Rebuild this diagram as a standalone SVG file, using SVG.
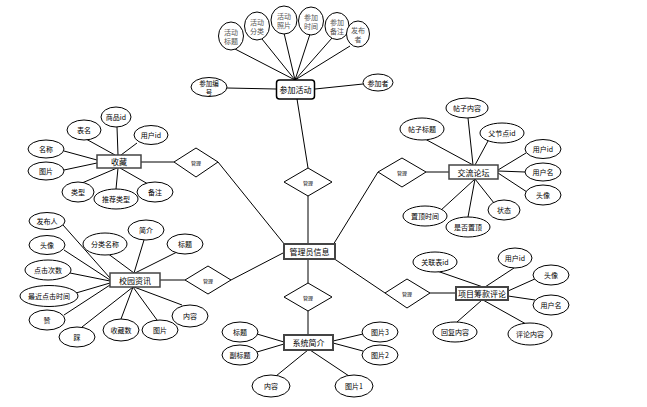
<svg xmlns="http://www.w3.org/2000/svg" width="647" height="407" viewBox="0 0 647 407">
<style>
.bg{fill:#fff}
.c line{stroke:#000;stroke-width:1}
ellipse{fill:#fff;stroke:#000;stroke-width:1}
.ent{fill:#fff;stroke:#444;stroke-width:2}
.dia{fill:#fff;stroke:#000;stroke-width:1}
text{font-family:"Noto Sans CJK SC","Liberation Sans",sans-serif;text-anchor:middle;dominant-baseline:central;fill:#000}
.a{font-size:7px}
.e{font-size:8px}
.d{font-size:5px}
.s{font-size:7px;fill:#555;font-family:"Noto Sans CJK SC","Liberation Serif",serif}
</style>
<rect class="bg" width="647" height="407"/>
<g class="c" id="connectors">
<line x1="235" y1="49" x2="295" y2="80"/>
<line x1="262" y1="39" x2="295" y2="80"/>
<line x1="284" y1="33" x2="295" y2="80"/>
<line x1="310" y1="34" x2="295" y2="80"/>
<line x1="332" y1="38" x2="295" y2="80"/>
<line x1="350" y1="46" x2="295" y2="80"/>
<line x1="227" y1="88" x2="276" y2="89"/>
<line x1="315" y1="89" x2="363" y2="84"/>
<line x1="297" y1="99" x2="308" y2="168"/>
<line x1="308" y1="196" x2="308" y2="244"/>
<line x1="308" y1="259" x2="308" y2="283"/>
<line x1="308" y1="311" x2="308" y2="335"/>
<line x1="333" y1="245" x2="378" y2="172"/>
<line x1="426" y1="172" x2="449" y2="172"/>
<line x1="333" y1="258" x2="385" y2="293"/>
<line x1="430" y1="293" x2="456" y2="293"/>
<line x1="218" y1="162" x2="285" y2="245"/>
<line x1="141" y1="162" x2="174" y2="162"/>
<line x1="231" y1="280" x2="283" y2="253"/>
<line x1="160" y1="280" x2="185" y2="280"/>
<line x1="117" y1="127" x2="118" y2="155"/>
<line x1="86" y1="139" x2="115" y2="155"/>
<line x1="137" y1="143" x2="121" y2="155"/>
<line x1="64" y1="151" x2="97" y2="160"/>
<line x1="64" y1="170" x2="97" y2="163"/>
<line x1="82" y1="183" x2="117" y2="168"/>
<line x1="116" y1="189" x2="118" y2="168"/>
<line x1="148" y1="184" x2="120" y2="168"/>
<line x1="425" y1="139" x2="473" y2="165"/>
<line x1="468" y1="118" x2="473" y2="165"/>
<line x1="488" y1="141" x2="475" y2="165"/>
<line x1="526" y1="153" x2="498" y2="170"/>
<line x1="525" y1="172" x2="498" y2="171"/>
<line x1="527" y1="192" x2="498" y2="173"/>
<line x1="440" y1="211" x2="475" y2="179"/>
<line x1="468" y1="217" x2="475" y2="179"/>
<line x1="494" y1="203" x2="475" y2="179"/>
<line x1="437" y1="271" x2="483" y2="287"/>
<line x1="514" y1="268" x2="485" y2="287"/>
<line x1="537" y1="278" x2="508" y2="291"/>
<line x1="535" y1="300" x2="508" y2="296"/>
<line x1="457" y1="322" x2="482" y2="300"/>
<line x1="526" y1="324" x2="483" y2="300"/>
<line x1="63" y1="225" x2="110" y2="278"/>
<line x1="64" y1="250" x2="110" y2="280"/>
<line x1="70" y1="273" x2="110" y2="281"/>
<line x1="76" y1="293" x2="110" y2="283"/>
<line x1="64" y1="315" x2="110" y2="285"/>
<line x1="107" y1="253" x2="134" y2="273"/>
<line x1="144" y1="240" x2="134" y2="273"/>
<line x1="177" y1="252" x2="135" y2="273"/>
<line x1="82" y1="327" x2="133" y2="287"/>
<line x1="121" y1="319" x2="133" y2="287"/>
<line x1="157" y1="320" x2="133" y2="287"/>
<line x1="182" y1="305" x2="134" y2="287"/>
<line x1="257" y1="334" x2="284" y2="342"/>
<line x1="257" y1="352" x2="284" y2="344"/>
<line x1="276" y1="376" x2="308" y2="350"/>
<line x1="349" y1="376" x2="310" y2="350"/>
<line x1="363" y1="351" x2="333" y2="343"/>
<line x1="363" y1="334" x2="333" y2="341"/>
</g>
<g id="canjiahuodong">
<rect class="ent" x="276.5" y="80" width="38" height="19" rx="3" style="stroke:#000;stroke-width:1.5"/>
<text class="e" x="295.5" y="89.5">参加活动</text>
</g>
<g id="attr-huodong-biaoti"><ellipse cx="231" cy="36" rx="12.5" ry="14"/><text class="s" x="231" y="32">活动</text><text class="s" x="231" y="41">标题</text></g>
<g id="attr-huodong-fenlei"><ellipse cx="257" cy="26" rx="12.5" ry="14"/><text class="s" x="257" y="22">活动</text><text class="s" x="257" y="31">分类</text></g>
<g id="attr-huodong-zhaopian"><ellipse cx="284" cy="20" rx="13" ry="14"/><text class="s" x="284" y="16">活动</text><text class="s" x="284" y="25">照片</text></g>
<g id="attr-canjia-shijian"><ellipse cx="311" cy="21" rx="12.5" ry="14"/><text class="s" x="311" y="17">参加</text><text class="s" x="311" y="26">时间</text></g>
<g id="attr-canjia-beizhu"><ellipse cx="337" cy="26" rx="12" ry="13.5"/><text class="s" x="337" y="22">参加</text><text class="s" x="337" y="31">备注</text></g>
<g id="attr-fabuzhe"><ellipse cx="358" cy="34" rx="11.5" ry="13"/><text class="s" x="358" y="30">发布</text><text class="s" x="358" y="39">者</text></g>
<g id="attr-canjia-bianhao"><ellipse cx="209" cy="87" rx="18" ry="9.5"/><text x="209" y="83" style="font-size:6.5px">参加编</text><text x="209" y="91.5" style="font-size:6.5px">号</text></g>
<g id="attr-canjiazhe"><ellipse cx="378" cy="82.5" rx="15" ry="8.5"/><text class="a" x="378" y="82.5">参加者</text></g>
<g id="dia-top"><polygon class="dia" points="308,168 332,182 308,196 284,182"/><text class="d" x="308" y="182">管理</text></g>
<g id="guanliyuan"><rect class="ent" x="284" y="244" width="51" height="15"/><text class="e" x="309.5" y="251.5">管理员信息</text></g>
<g id="dia-bottom"><polygon class="dia" points="308,283 332,297 308,311 284,297"/><text class="d" x="308" y="297">管理</text></g>
<g id="xitong"><rect class="ent" x="284" y="335" width="49" height="15"/><text class="e" x="308.5" y="342.5">系统简介</text></g>
<g id="attr-xt-biaoti"><ellipse cx="240" cy="332" rx="18" ry="10"/><text class="a" x="240" y="332">标题</text></g>
<g id="attr-xt-fubiaoti"><ellipse cx="240" cy="355" rx="18" ry="10"/><text class="a" x="240" y="355">副标题</text></g>
<g id="attr-xt-neirong"><ellipse cx="271" cy="386" rx="19" ry="11"/><text class="a" x="271" y="386">内容</text></g>
<g id="attr-xt-tupian1"><ellipse cx="354" cy="386" rx="19" ry="11"/><text class="a" x="354" y="386">图片1</text></g>
<g id="attr-xt-tupian2"><ellipse cx="380" cy="355" rx="18" ry="10"/><text class="a" x="380" y="355">图片2</text></g>
<g id="attr-xt-tupian3"><ellipse cx="380" cy="332" rx="18" ry="10"/><text class="a" x="380" y="332">图片3</text></g>
<g id="dia-jiaoliu"><polygon class="dia" points="378,172 402,158 426,172 402,187"/><text class="d" x="402" y="172">管理</text></g>
<g id="jiaoliu"><rect class="ent" x="449" y="165" width="49" height="14" style="stroke-width:1.5"/><text class="e" x="473.5" y="172">交流论坛</text></g>
<g id="attr-tiezi-neirong"><ellipse cx="467" cy="108" rx="21" ry="10"/><text class="a" x="467" y="108">帖子内容</text></g>
<g id="attr-tiezi-biaoti"><ellipse cx="422" cy="129" rx="22" ry="11"/><text class="a" x="422" y="129">帖子标题</text></g>
<g id="attr-fujiedian"><ellipse cx="502" cy="133" rx="22" ry="10"/><text class="a" x="502" y="133">父节点id</text></g>
<g id="attr-jl-yonghuid"><ellipse cx="543" cy="149" rx="18" ry="9.5"/><text class="a" x="543" y="149">用户id</text></g>
<g id="attr-jl-yonghuming"><ellipse cx="543" cy="172" rx="18" ry="9"/><text class="a" x="543" y="172">用户名</text></g>
<g id="attr-jl-touxiang"><ellipse cx="543" cy="195" rx="18" ry="10"/><text class="a" x="543" y="195">头像</text></g>
<g id="attr-zhuangtai"><ellipse cx="504" cy="210" rx="16" ry="10"/><text class="a" x="504" y="210">状态</text></g>
<g id="attr-shifouzhiding"><ellipse cx="468" cy="227" rx="22" ry="10"/><text class="a" x="468" y="227">是否置顶</text></g>
<g id="attr-zhidingshijian"><ellipse cx="425" cy="216" rx="22" ry="10"/><text class="a" x="425" y="216">置顶时间</text></g>
<g id="dia-pinglun"><polygon class="dia" points="385,293 407,279 430,293 407,308"/><text class="d" x="407" y="293">管理</text></g>
<g id="pinglun"><rect class="ent" x="456" y="287" width="52" height="13"/><text class="e" x="482" y="293.5">项目筹款评论</text></g>
<g id="attr-guanlianbiao"><ellipse cx="435" cy="262" rx="22" ry="10"/><text class="a" x="435" y="262">关联表id</text></g>
<g id="attr-pl-yonghuid"><ellipse cx="515" cy="258" rx="17" ry="10"/><text class="a" x="515" y="258">用户id</text></g>
<g id="attr-pl-touxiang"><ellipse cx="551" cy="275" rx="18" ry="10"/><text class="a" x="551" y="275">头像</text></g>
<g id="attr-pl-yonghuming"><ellipse cx="551" cy="305" rx="18" ry="10"/><text class="a" x="551" y="305">用户名</text></g>
<g id="attr-pinglunneirong"><ellipse cx="530" cy="334" rx="22" ry="11"/><text class="a" x="530" y="334">评论内容</text></g>
<g id="attr-huifuneirong"><ellipse cx="455" cy="332" rx="22" ry="10"/><text class="a" x="455" y="332">回复内容</text></g>
<g id="dia-shoucang"><polygon class="dia" points="174,162 196,148 218,162 196,177"/><text class="d" x="196" y="162">管理</text></g>
<g id="shoucang"><rect class="ent" x="97" y="155" width="44" height="13" style="stroke-width:1.5"/><text class="e" x="119" y="161.5">收藏</text></g>
<g id="attr-shangpinid"><ellipse cx="116" cy="117" rx="15" ry="10"/><text class="a" x="116" y="117">商品id</text></g>
<g id="attr-biaoming"><ellipse cx="84" cy="130" rx="17" ry="10"/><text class="a" x="84" y="130">表名</text></g>
<g id="attr-sc-yonghuid"><ellipse cx="151" cy="135" rx="17" ry="9.5"/><text class="a" x="151" y="135">用户id</text></g>
<g id="attr-mingcheng"><ellipse cx="46" cy="149" rx="18" ry="9"/><text class="a" x="46" y="149">名称</text></g>
<g id="attr-sc-tupian"><ellipse cx="46" cy="171" rx="18" ry="9"/><text class="a" x="46" y="171">图片</text></g>
<g id="attr-leixing"><ellipse cx="78" cy="192" rx="16" ry="10"/><text class="a" x="78" y="192">类型</text></g>
<g id="attr-tuijianleixing"><ellipse cx="116" cy="199" rx="22" ry="10"/><text class="a" x="116" y="199">推荐类型</text></g>
<g id="attr-beizhu"><ellipse cx="155" cy="192" rx="18" ry="10"/><text class="a" x="155" y="192">备注</text></g>
<g id="dia-xiaoyuan"><polygon class="dia" points="185,280 208,266 231,280 208,294"/><text class="d" x="208" y="280">管理</text></g>
<g id="xiaoyuan"><rect class="ent" x="110" y="273" width="50" height="14" style="stroke-width:1.5"/><text class="e" x="135" y="280">校园资讯</text></g>
<g id="attr-faburen"><ellipse cx="47" cy="221" rx="18" ry="8.5"/><text class="a" x="47" y="221">发布人</text></g>
<g id="attr-xy-touxiang"><ellipse cx="47" cy="245" rx="18" ry="9.5"/><text class="a" x="47" y="245">头像</text></g>
<g id="attr-dianjicishu"><ellipse cx="48" cy="270" rx="23" ry="10"/><text class="a" x="48" y="270">点击次数</text></g>
<g id="attr-zuijindianji"><ellipse cx="49" cy="296" rx="29" ry="10.5"/><text class="a" x="49" y="296">最近点击时间</text></g>
<g id="attr-zan"><ellipse cx="47" cy="320" rx="18" ry="10"/><text class="a" x="47" y="320">赞</text></g>
<g id="attr-cai"><ellipse cx="77" cy="337" rx="18" ry="10"/><text class="a" x="77" y="337">踩</text></g>
<g id="attr-shoucangshu"><ellipse cx="121" cy="330" rx="18" ry="11"/><text class="a" x="121" y="330">收藏数</text></g>
<g id="attr-xy-tupian"><ellipse cx="160" cy="330" rx="18" ry="10"/><text class="a" x="160" y="330">图片</text></g>
<g id="attr-xy-neirong"><ellipse cx="190" cy="316" rx="18" ry="11"/><text class="a" x="190" y="316">内容</text></g>
<g id="attr-xy-biaoti"><ellipse cx="185" cy="244" rx="18" ry="10"/><text class="a" x="185" y="244">标题</text></g>
<g id="attr-jianjie"><ellipse cx="146" cy="230" rx="18" ry="10"/><text class="a" x="146" y="230">简介</text></g>
<g id="attr-fenleimingcheng"><ellipse cx="105" cy="244" rx="22" ry="11"/><text class="a" x="105" y="244">分类名称</text></g>
</svg>
